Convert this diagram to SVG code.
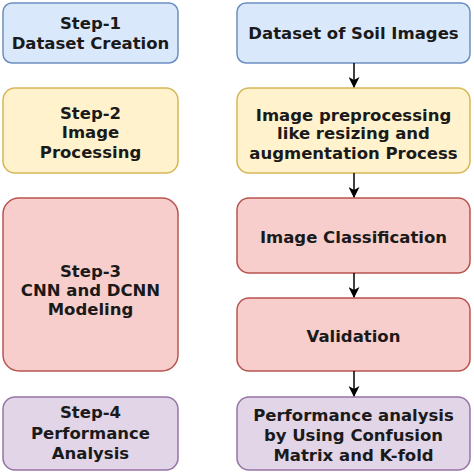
<svg xmlns="http://www.w3.org/2000/svg" width="474" height="474" viewBox="0 0 474 474">
<defs>
<style>
.t{font-family:"DejaVu Sans","Liberation Sans",sans-serif;font-weight:bold;font-size:16.5px;fill:#1a1a1a;text-anchor:middle}
.blue{fill:#dae8fc;stroke:#6c8ebf;stroke-width:1.5}
.yellow{fill:#fff2cc;stroke:#d6b656;stroke-width:1.5}
.red{fill:#f8cecc;stroke:#b85450;stroke-width:1.5}
.purple{fill:#e1d5e7;stroke:#9673a6;stroke-width:1.5}
.c{stroke:#000;stroke-width:1.5;fill:none}
</style>
<marker id="ah" markerWidth="11" markerHeight="11" refX="10" refY="5.5" orient="auto" markerUnits="userSpaceOnUse">
<path d="M0,0 L11,5.5 L0,11 L3,5.5 Z" fill="#000"/>
</marker>
</defs>
<rect width="474" height="474" fill="#fff"/>
<g id="step1">
<rect class="blue" x="3" y="3" width="175" height="60" rx="9"/>
<text class="t" x="90.5" y="29">Step-1</text>
<text class="t" x="90.5" y="49">Dataset Creation</text>
</g>
<g id="step2">
<rect class="yellow" x="3" y="88" width="175" height="85" rx="12"/>
<text class="t" x="90.5" y="119">Step-2</text>
<text class="t" x="90.5" y="138">Image</text>
<text class="t" x="90.5" y="158">Processing</text>
</g>
<g id="step3">
<rect class="red" x="3" y="198" width="175" height="173" rx="16"/>
<text class="t" x="90.5" y="277">Step-3</text>
<text class="t" x="90.5" y="296">CNN and DCNN</text>
<text class="t" x="90.5" y="315">Modeling</text>
</g>
<g id="step4">
<rect class="purple" x="3" y="397" width="175" height="73" rx="12"/>
<text class="t" x="90.5" y="418">Step-4</text>
<text class="t" x="90.5" y="439">Performance</text>
<text class="t" x="90.5" y="459">Analysis</text>
</g>
<g id="dataset">
<rect class="blue" x="237" y="3" width="233" height="60" rx="9"/>
<text class="t" x="353.5" y="39">Dataset of Soil Images</text>
</g>
<g id="preprocessing">
<rect class="yellow" x="237" y="88" width="233" height="85" rx="12"/>
<text class="t" x="353.5" y="121">Image preprocessing</text>
<text class="t" x="353.5" y="139">like resizing and</text>
<text class="t" x="353.5" y="159">augmentation Process</text>
</g>
<g id="classification">
<rect class="red" x="237" y="198" width="233" height="75" rx="12"/>
<text class="t" x="353.5" y="243">Image Classification</text>
</g>
<g id="validation">
<rect class="red" x="237" y="298" width="233" height="73" rx="12"/>
<text class="t" x="353.5" y="342">Validation</text>
</g>
<g id="performance">
<rect class="purple" x="237" y="397" width="233" height="73" rx="12"/>
<text class="t" x="353.5" y="421">Performance analysis</text>
<text class="t" x="353.5" y="441">by Using Confusion</text>
<text class="t" x="353.5" y="461">Matrix and K-fold</text>
</g>
<g id="connectors">
<line class="c" x1="354" y1="63" x2="354" y2="87" marker-end="url(#ah)"/>
<line class="c" x1="354" y1="173" x2="354" y2="197" marker-end="url(#ah)"/>
<line class="c" x1="354" y1="273" x2="354" y2="297" marker-end="url(#ah)"/>
<line class="c" x1="354" y1="371" x2="354" y2="396" marker-end="url(#ah)"/>
</g>
</svg>
